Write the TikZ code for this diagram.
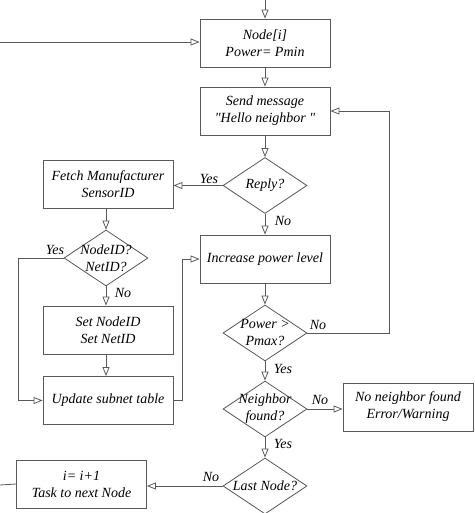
\documentclass[tikz,border=0pt]{standalone}
\usepackage{fontspec}
\setmainfont{Liberation Serif}[Ligatures=TeXOff]
\usetikzlibrary{shapes.geometric,arrows.meta}
\begin{document}
\begin{tikzpicture}[x=1pt,y=-1pt,
  every node/.style={font=\itshape\fontsize{14}{17}\selectfont, text=black},
  box/.style={draw=black!65, line width=0.8pt, minimum width=130pt, minimum height=48pt, inner sep=0pt, align=center},
  dec/.style={draw=black!65, line width=0.8pt, diamond, minimum width=84pt, minimum height=56pt, inner sep=0pt},
  dlabel/.style={align=center, inner sep=0pt},
  flow/.style={draw=black!65, line width=0.8pt, -{Triangle[open, length=9pt, width=7pt]}},
  plain/.style={draw=black!65, line width=0.8pt},
  lab/.style={inner sep=0pt}]
\fill[white] (0,0) rectangle (474,513);
\useasboundingbox (0,0) rectangle (474,513);
\coordinate (top) at (265,0);
\coordinate (leftin) at (0,42);
\coordinate (leftout) at (0,485);
\node[box] (node) at (265,43) {Node[i]\\Power= Pmin};
\node[box] (send) at (265,111) {Send message\\"Hello neighbor "};
\node[dec, label={[dlabel]center:{Reply?}}] (reply) at (265,185.5) {};
\node[box] (fetch) at (108,184) {Fetch Manufacturer\\SensorID};
\node[dec, label={[dlabel]center:{NodeID?\\NetID?}}] (nid) at (106,258) {};
\node[box] (set) at (108,330) {Set NodeID\\Set NetID};
\node[box] (upd) at (108,400.5) {Update subnet table};
\node[box] (inc) at (265,259) {Increase power level};
\node[dec, label={[dlabel]center:{Power >\\Pmax?}}] (pw) at (265,333) {};
\node[dec, label={[dlabel]center:{Neighbor\\found?}}] (nb) at (265,409) {};
\node[box] (nonb) at (408,407) {No neighbor found\\Error/Warning};
\node[dec, label={[dlabel]center:{Last Node?}}] (last) at (265,486) {};
\node[box] (inext) at (81.5,484) {i= i+1\\Task to next Node};

\draw[flow] (top) -- (node);
\draw[flow] (leftin) -- (leftin -| node.west);
\draw[flow] (node) -- (send);
\draw[flow] (send) -- (reply);
\draw[flow] (reply.west) -- (reply.west -| fetch.east);
\draw[flow] (fetch.south -| nid.north) -- (nid.north);
\draw[flow] (reply) -- (inc);
\draw[flow] (nid) -- (nid.south |- set.north);
\draw[flow] (set.south -| nid.south) -- (nid.south |- upd.north);
\draw[flow] (nid.west) -- (18,258) |- (upd.west);
\draw[flow] (upd.east) -- (182,400.5) |- (inc.west);
\draw[flow] (inc) -- (pw);
\draw[flow] (pw.east) -- (389,333) |- (send.east);
\draw[flow] (pw) -- (nb);
\draw[flow] (nb.east) -- (nb.east -| nonb.west);
\draw[flow] (nb) -- (last);
\draw[flow] (last.west) -- (last.west -| inext.east);
\draw[plain] (inext.west) -- (leftout);

\node[lab] at (209,179) {Yes};
\node[lab] at (283,221) {No};
\node[lab] at (55,250) {Yes};
\node[lab] at (123,293) {No};
\node[lab] at (318,325) {No};
\node[lab] at (283,369) {Yes};
\node[lab] at (320,400) {No};
\node[lab] at (283,444) {Yes};
\node[lab] at (211,477) {No};
\end{tikzpicture}
\end{document}
